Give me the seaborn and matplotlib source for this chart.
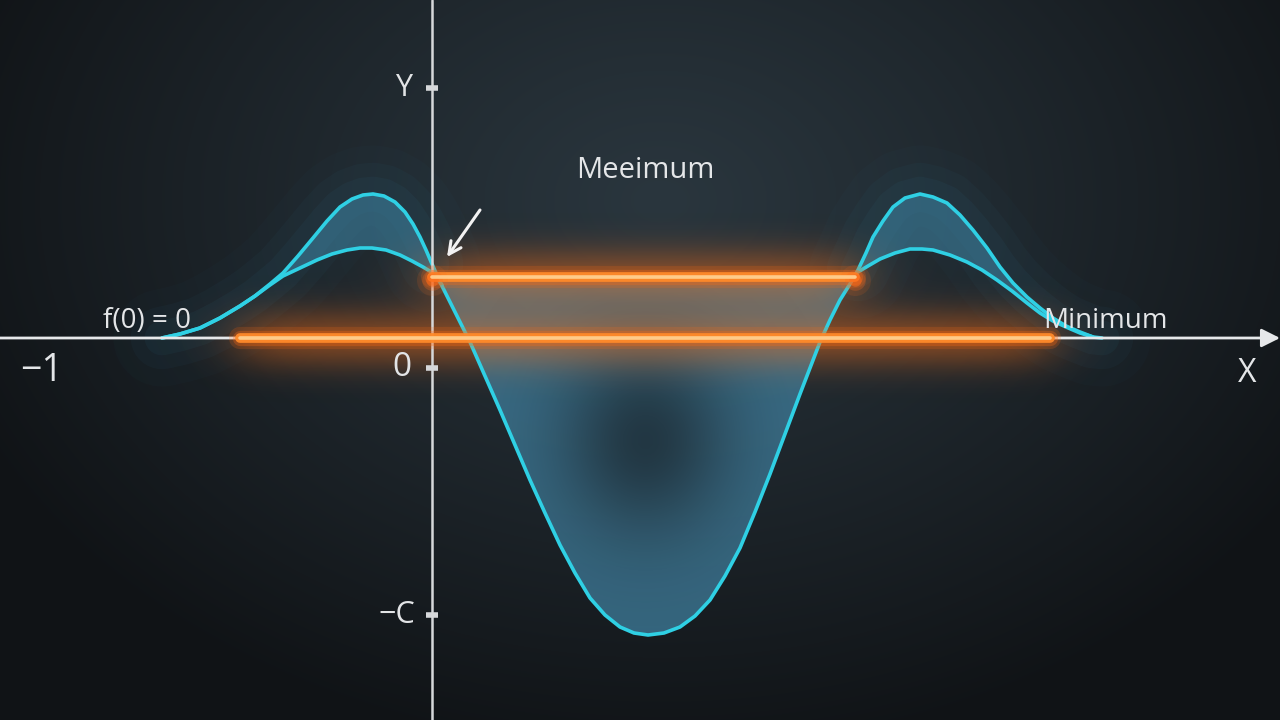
import numpy as np
import pandas as pd
import matplotlib
matplotlib.use("Agg")
import matplotlib.pyplot as plt
import seaborn as sns
from matplotlib.patches import Polygon

# ---------------- data (units = offsets from the axes origin) ----------------
outer_x = [-270, -252, -232, -212, -192, -177, -162, -149, -134, -119, -105, -92, -80, -69, -59,
           -48, -37, -27, -19, -12, -6, 0,
           8, 18, 28, 38, 53, 68, 83, 98, 113, 128, 143, 158, 173, 188, 202, 216, 232, 248,
           263, 278, 293, 308, 323, 338, 353, 368, 378, 388, 398, 408, 418, 426,
           434, 441, 451, 461, 473, 488, 501, 515, 528, 541, 555, 568, 581, 595, 608, 621,
           634, 648, 661, 670]
outer_y = [0, 4, 10, 20, 32, 42, 54, 65, 82, 100, 117, 131, 139, 143, 144,
           142, 136, 126, 114, 101, 88, 74,
           56, 36, 16, -4, -38, -72, -107, -142, -175, -207, -235, -260, -277, -289, -295, -297, -295, -289,
           -278, -262, -238, -210, -174, -136, -96, -56, -30, -4, 18, 38, 54, 68,
           85, 101, 117, 131, 140, 144, 141, 135, 123, 108, 90, 71, 55, 41, 30, 20,
           12, 6, 1, 0]
inner_left_x = [-270, -252, -232, -212, -192, -177, -162, -149, -132, -115, -100, -85, -72, -60,
                -46, -32, -20, -9, 1, 10]
inner_left_y = [0, 4, 10, 20, 32, 42, 53, 62, 70, 78, 84, 88, 90, 90,
                88, 83, 77, 71, 65, 53]
inner_right_x = [426, 436, 448, 463, 478, 490, 501, 518, 535, 550, 565, 580, 595, 608, 621, 634, 648, 661]
inner_right_y = [66, 72, 79, 85, 89, 89, 88, 83, 76, 68, 58, 47, 35, 25, 17, 11, 5, 1]

# glowing horizontal segments (y level, x start, x end)
glow_levels = [61, 0]
glow_x0 = [0, -192]
glow_x1 = [423, 618]

# y-axis tick marks and labels
ytick_pos = [250, -30, -277]
ytick_labels = ["Y", "0", "\u2212C"]
ytick_size = [22, 24, 22]

# free annotations
ann_text = ["f(0) = 0", "Meeimum", "Minimum", "\u22121", "X"]
ann_x = [-285, 213, 673, -390, 815]
ann_y = [17, 168, 17, -33, -36]
ann_size = [20, 21, 20, 27, 23]

XMIN, XMAX, YMIN, YMAX = -432, 848, -382, 338

# ---------------- style ----------------
sns.set_theme(style="dark")
plt.rcParams["font.family"] = ["Open Sans", "DejaVu Sans"]

fig = plt.figure(figsize=(12.8, 7.2), dpi=100)
ax = fig.add_axes([0, 0, 1, 1])
ax.set_xlim(XMIN, XMAX)
ax.set_ylim(YMIN, YMAX)
ax.axis("off")
EXT = [XMIN, XMAX, YMIN, YMAX]

# background vignette
H, W = 720, 1280
yy, xx = np.mgrid[0:H, 0:W]
r = np.sqrt(((xx - 660) / 760.0) ** 2 + ((yy - 200) / 560.0) ** 2)
t = np.clip(r, 0, 1) ** 1.1
c_center = np.array([0x2a, 0x36, 0x3e]) / 255.0
c_edge = np.array([0x10, 0x13, 0x16]) / 255.0
bg = c_center[None, None, :] * (1 - t[..., None]) + c_edge[None, None, :] * t[..., None]
ax.imshow(bg, extent=EXT, origin="upper", aspect="auto", zorder=0)

cyan = "#2fd0e4"
fill_blue = "#3f86a6"

ox = np.array(outer_x, dtype=float)
oy = np.array(outer_y, dtype=float)

# blue haze around the humps
lh = ox <= 0
rh = ox >= 426
for lw, a in [(70, 0.025), (45, 0.04), (25, 0.05)]:
    ax.plot(ox[lh], oy[lh], color="#3a9cc4", lw=lw, alpha=a, solid_capstyle="round", zorder=1)
    ax.plot(ox[rh], oy[rh], color="#3a9cc4", lw=lw, alpha=a, solid_capstyle="round", zorder=1)

# hump fills between outer and inner
lx = np.array(inner_left_x, dtype=float)
ly = np.array(inner_left_y, dtype=float)
rx = np.array(inner_right_x, dtype=float)
ry = np.array(inner_right_y, dtype=float)
lm = ox <= 10
ax.fill(np.concatenate([ox[lm], lx[::-1]]), np.concatenate([oy[lm], ly[::-1]]),
        color=fill_blue, alpha=0.55, lw=0, zorder=2)
rm = (ox >= 426) & (ox <= 661)
ax.fill(np.concatenate([ox[rm], rx[::-1]]), np.concatenate([oy[rm], ry[::-1]]),
        color=fill_blue, alpha=0.55, lw=0, zorder=2)

# trough fill below the upper glow level
top = glow_levels[0]
tm = (ox >= 0) & (ox <= 426)
tx = ox[tm]
ty = np.minimum(oy[tm], top)
trough_poly = Polygon(np.column_stack([np.concatenate([[0.0], tx, [glow_x1[0]]]),
                                       np.concatenate([[top], ty, [top]])]),
                      closed=True, facecolor="#4283a3", alpha=0.72, lw=0, zorder=2)
ax.add_patch(trough_poly)

# darker blurred core inside the trough
g = np.exp(-(((xx - 645) / 85.0) ** 2 + ((yy - 440) / 95.0) ** 2))
dark = np.zeros((H, W, 4))
dark[..., 0] = 0x1a / 255.0
dark[..., 1] = 0x24 / 255.0
dark[..., 2] = 0x2b / 255.0
dark[..., 3] = 0.72 * g
im = ax.imshow(dark, extent=EXT, origin="upper", aspect="auto", zorder=3)
im.set_clip_path(trough_poly)

# smooth orange haze around the glowing segments
haze = np.zeros((H, W))
for lvl, x0, x1 in zip(glow_levels, glow_x0, glow_x1):
    py = YMAX - lvl
    px0 = x0 - XMIN
    px1 = x1 - XMIN
    prof_y = np.exp(-((yy - py) / 30.0) ** 2)
    prof_x = 1 / (1 + np.exp(-(xx - px0) / 18.0)) * 1 / (1 + np.exp((xx - px1) / 18.0))
    haze += 0.42 * prof_y * prof_x
haze = np.clip(haze, 0, 0.6)
orange_img = np.zeros((H, W, 4))
orange_img[..., 0] = 1.0
orange_img[..., 1] = 0.45
orange_img[..., 2] = 0.10
orange_img[..., 3] = haze
ax.imshow(orange_img, extent=EXT, origin="upper", aspect="auto", zorder=4)

# curves
df_outer = pd.DataFrame({"x": outer_x, "y": outer_y})
sns.lineplot(data=df_outer, x="x", y="y", sort=False, estimator=None, ax=ax,
             color=cyan, lw=2.6, zorder=5)
sns.lineplot(x=inner_left_x, y=inner_left_y, sort=False, estimator=None, ax=ax,
             color=cyan, lw=2.6, zorder=5)
sns.lineplot(x=inner_right_x, y=inner_right_y, sort=False, estimator=None, ax=ax,
             color=cyan, lw=2.6, zorder=5)

# axes lines
ax.plot([0, 0], [YMIN, YMAX], color="#d6d8da", lw=1.8, zorder=6)
ax.annotate("", xy=(XMAX, 0), xytext=(XMIN, 0),
            arrowprops=dict(arrowstyle="-|>", color="#e6e8ea", lw=2.0,
                            mutation_scale=28, shrinkA=0, shrinkB=0), zorder=6)

# glowing orange segments
for lvl, x0, x1 in zip(glow_levels, glow_x0, glow_x1):
    for lw, a in [(16, 0.18), (11, 0.3)]:
        ax.plot([x0, x1], [lvl, lvl], color="#ff6a10", lw=lw, alpha=a,
                solid_capstyle="round", zorder=7)
    ax.plot([x0, x1], [lvl, lvl], color="#ff8a2a", lw=7, alpha=0.95,
            solid_capstyle="round", zorder=8)
    ax.plot([x0, x1], [lvl, lvl], color="#ffcf90", lw=2.6, alpha=0.95,
            solid_capstyle="round", zorder=9)

# orange hot spots at intersections
for xs in [glow_x0[0], glow_x1[0]]:
    for s, a in [(500, 0.12), (220, 0.25), (80, 0.5)]:
        ax.scatter([xs], [top - 3], s=s, color="#ff6a1a", alpha=a, lw=0, zorder=8)

# y-axis tick marks and labels
for yp, lab, fs in zip(ytick_pos, ytick_labels, ytick_size):
    ax.plot([0], [yp], marker="_", ms=9, mew=4, color="#d6d8da", zorder=10)
    ax.text(-20 if lab != "\u2212C" else -17, yp, lab, ha="right", va="center",
            color="#e2e4e6", fontsize=fs, zorder=10)

# annotations
for txt, x, y, s in zip(ann_text, ann_x, ann_y, ann_size):
    ax.text(x, y, txt, ha="center", va="center", color="#e4e6e8", fontsize=s, zorder=10)

# pointer arrow
ax.annotate("", xy=(15, 81), xytext=(48, 128),
            arrowprops=dict(arrowstyle="->", color="#f2f2f2", lw=2.2,
                            mutation_scale=22, shrinkA=0, shrinkB=0), zorder=10)

fig.savefig("out.png", dpi=100)
